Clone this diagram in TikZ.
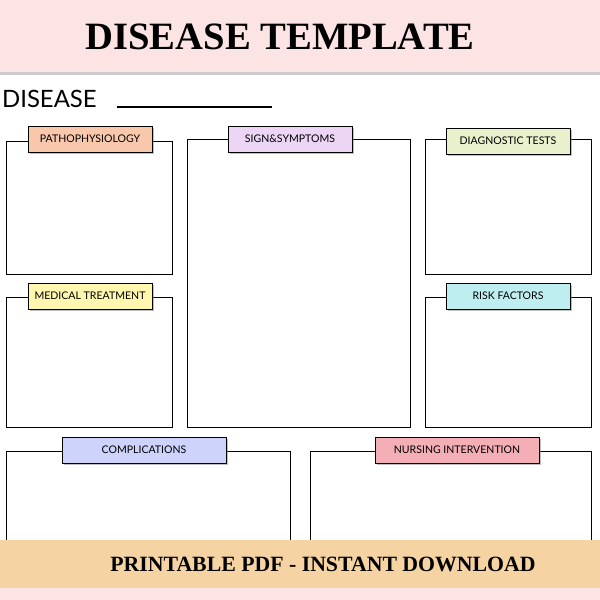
\documentclass[tikz,border=0pt]{standalone}
\usepackage{fontspec}
\setmainfont{Liberation Serif}
\newfontfamily\lab{Lato}
\usetikzlibrary{shadows}
\definecolor{pinkbg}{HTML}{FCE4E4}
\definecolor{tan}{HTML}{F5D3A2}
\tikzset{x=0.05cm,y=-0.05cm,
 panel/.style={draw=black,line width=1pt,fill=white},
 tag/.style={draw=black,line width=0.8pt,minimum width=6.2cm,minimum height=1.3cm,inner sep=0pt,font=\lab\fontsize{15}{16}\selectfont,drop shadow={shadow xshift=0.12cm,shadow yshift=-0.12cm,opacity=0.5}}}
\begin{document}
\begin{tikzpicture}
\useasboundingbox (0,0) rectangle (600,600);
\fill[pinkbg] (0,0) rectangle (600,600);
\fill[gray!40] (0,72) rectangle (600,78);
\fill[white] (0,75) rectangle (600,540);
\node (title) at (280,37) {\fontsize{55}{60}\selectfont\bfseries DISEASE TEMPLATE};
\node[anchor=west,inner sep=0pt] (dis) at (2,99) {\lab\fontsize{34}{36}\selectfont DISEASE};
\coordinate (u1) at (117,107); \coordinate (u2) at (272,107);
\draw[line width=2.4pt] (u1) -- (u2);
\draw[panel] (6,141) rectangle (172,274);
\draw[panel] (187,139) rectangle (410,427);
\draw[panel] (425,139) rectangle (591,274);
\draw[panel] (6,297) rectangle (172,427);
\draw[panel] (425,297) rectangle (591,427);
\draw[panel] (6,451) rectangle (290,545);
\draw[panel] (310,451) rectangle (591,545);
\node[tag,fill={rgb,255:red,249;green,200;blue,172}] (p) at (90,139) {PATHOPHYSIOLOGY};
\node[tag,fill={rgb,255:red,236;green,213;blue,245}] (s) at (290,139) {SIGN\&SYMPTOMS};
\node[tag,fill={rgb,255:red,232;green,240;blue,204}] (d) at (508,141) {DIAGNOSTIC TESTS};
\node[tag,fill={rgb,255:red,255;green,246;blue,176}] (m) at (90,296) {MEDICAL TREATMENT};
\node[tag,fill={rgb,255:red,191;green,238;blue,240}] (r) at (508,296) {RISK FACTORS};
\node[tag,minimum width=8.2cm,fill={rgb,255:red,205;green,211;blue,251}] (c) at (144,450) {COMPLICATIONS};
\node[tag,minimum width=8.2cm,fill={rgb,255:red,244;green,174;blue,182}] (n) at (457,450) {NURSING INTERVENTION};
\fill[tan] (0,540) rectangle (600,588);
\node (foot) at (323,564) {\fontsize{31}{34}\selectfont\bfseries PRINTABLE PDF - INSTANT DOWNLOAD};
\end{tikzpicture}
\end{document}
